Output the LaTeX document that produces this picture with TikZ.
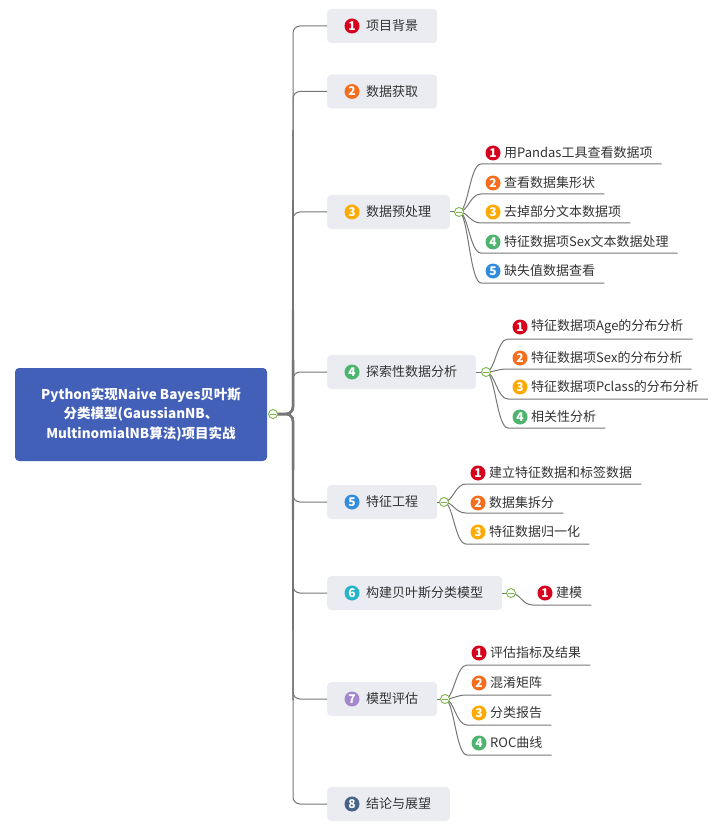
\documentclass[tikz,border=0pt]{standalone}
\usepackage{fontspec}
\setmainfont{Noto Sans CJK SC}
\usetikzlibrary{calc}
\definecolor{linegray}{RGB}{118,118,118}
\definecolor{boxfill}{RGB}{235,236,242}
\definecolor{rootblue}{RGB}{67,96,184}
\definecolor{txt}{RGB}{51,51,51}
\definecolor{kgreen}{RGB}{124,182,72}
\definecolor{bA}{RGB}{214,0,28}
\definecolor{bB}{RGB}{245,110,30}
\definecolor{bC}{RGB}{255,170,0}
\definecolor{bD}{RGB}{76,180,110}
\definecolor{bE}{RGB}{50,140,220}
\definecolor{bF}{RGB}{38,180,200}
\definecolor{bG}{RGB}{165,135,205}
\definecolor{bH}{RGB}{70,100,135}
\tikzset{
  conn/.style={draw=linegray, line width=1pt},
  rootbox/.style={fill=rootblue, rounded corners=4pt, minimum width=252pt, minimum height=93pt,
    text=white, align=center, font=\fontsize{13.5}{19.5}\selectfont\bfseries},
  lonebox/.style={fill=boxfill, rounded corners=4pt, anchor=west, minimum height=34pt,
    inner ysep=0pt, inner xsep=19pt, text=txt, font=\fontsize{13}{15}\selectfont},
  badge/.style={circle, inner sep=0pt, minimum size=15pt, text=white,
    font=\fontsize{12}{12}\selectfont\bfseries},
  subtxt/.style={anchor=west, inner ysep=0pt, inner xsep=9pt, text=txt,
    font=\fontsize{13}{15}\selectfont},
  collapse/.style={circle, draw=kgreen, fill=white, line width=0.9pt, minimum size=9pt, inner sep=0pt,
    path picture={\draw[kgreen, line width=0.9pt] ([xshift=-2.6pt]path picture bounding box.center) -- ([xshift=2.6pt]path picture bounding box.center);}},
  trunk/.style={draw=linegray, rounded corners=7pt}
}
% #1 name, #2 collapse coordinate, #3 collapse x, #4 badge y, #5 underline y, #6 colour, #7 number, #8 text
\newcommand\sbr[8]{%
  \node[badge, fill=#6] (#1b) at (#3+34, #4) {#7};
  \node[subtxt] (#1) at (#3+36, #4) {#8};
  \coordinate (#1u) at (#3+22, #5);
  \draw[conn] (#2) .. controls +(9,0) and +(-11,0) .. (#1u) -- (#1u -| #1.east);
}
\newcommand\lone[5]{% #1 name, #2 y, #3 colour, #4 number, #5 text
  \node[lonebox] (#1) at (327, #2) {\hspace*{20pt}#5};
  \node[badge, fill=#3] (#1b) at (352, #2) {#4};
}
\begin{document}
\begin{tikzpicture}[x=1pt, y=-1pt]
\useasboundingbox (0,0) rectangle (720,826);
\node[rootbox] (root) at (141,414.5) {Python实现Naive Bayes贝叶斯\\分类模型(GaussianNB、\\MultinomialNB算法)项目实战};
\coordinate (rc) at (273,414);

% level one boxes
\lone{c1}{26}{bA}{1}{项目背景}
\lone{c2}{91.5}{bB}{2}{数据获取}
\lone{c3}{212}{bC}{3}{数据预处理}
\lone{c4}{372}{bD}{4}{探索性数据分析}
\lone{c5}{502}{bE}{5}{特征工程}
\lone{c6}{593}{bF}{6}{构建贝叶斯分类模型}
\lone{c7}{699}{bG}{7}{模型评估}
\lone{c8}{804}{bH}{8}{结论与展望}

% trunk connectors
\foreach \c in {c1,c2,c3,c4,c5,c6,c7,c8}
  \draw[conn, rounded corners=7pt] (rc) -| ($(\c.west)+(-34,0)$) -- (\c.west);
% tapering trunk near the root
\foreach \w/\up/\dn in {1.3/130/700, 1.6/200/630, 1.9/260/570, 2.2/310/520, 2.5/360/470} {
  \coordinate (tu) at (293,\up);
  \coordinate (td) at (293,\dn);
  \draw[trunk, line width=\w pt] (rc) -| (tu);
  \draw[trunk, line width=\w pt] (rc) -| (td);
}

% collapse points
\coordinate (k3) at (459,212);
\coordinate (k4) at (486,372);
\coordinate (k5) at (444,502);
\coordinate (k6) at (511,593);
\coordinate (k7) at (445,699);
\draw[conn] (c3.east) -- (k3);
\draw[conn] (c4.east) -- (k4);
\draw[conn] (c5.east) -- (k5);
\draw[conn] (c6.east) -- (k6);
\draw[conn] (c7.east) -- (k7);

% sub branches
\sbr{s31}{k3}{459}{153}{164}{bA}{1}{用Pandas工具查看数据项}
\sbr{s32}{k3}{459}{183}{194}{bB}{2}{查看数据集形状}
\sbr{s33}{k3}{459}{212}{223}{bC}{3}{去掉部分文本数据项}
\sbr{s34}{k3}{459}{242}{253}{bD}{4}{特征数据项Sex文本数据处理}
\sbr{s35}{k3}{459}{271}{283}{bE}{5}{缺失值数据查看}

\sbr{s41}{k4}{486}{327}{339}{bA}{1}{特征数据项Age的分布分析}
\sbr{s42}{k4}{486}{358}{369}{bB}{2}{特征数据项Sex的分布分析}
\sbr{s43}{k4}{486}{387}{399}{bC}{3}{特征数据项Pclass的分布分析}
\sbr{s44}{k4}{486}{417}{428}{bD}{4}{相关性分析}

\sbr{s51}{k5}{444}{473}{484}{bA}{1}{建立特征数据和标签数据}
\sbr{s52}{k5}{444}{503}{513}{bB}{2}{数据集拆分}
\sbr{s53}{k5}{444}{532}{544}{bC}{3}{特征数据归一化}

\sbr{s61}{k6}{511}{593}{605}{bA}{1}{建模}

\sbr{s71}{k7}{445}{653}{665}{bA}{1}{评估指标及结果}
\sbr{s72}{k7}{445}{683}{695}{bB}{2}{混淆矩阵}
\sbr{s73}{k7}{445}{713}{725}{bC}{3}{分类报告}
\sbr{s74}{k7}{445}{743}{755}{bD}{4}{ROC曲线}

% collapse markers on top
\node[collapse] (rk) at (rc) {};
\node[collapse] (kk3) at (k3) {};
\node[collapse] (kk4) at (k4) {};
\node[collapse] (kk5) at (k5) {};
\node[collapse] (kk6) at (k6) {};
\node[collapse] (kk7) at (k7) {};
\end{tikzpicture}
\end{document}
